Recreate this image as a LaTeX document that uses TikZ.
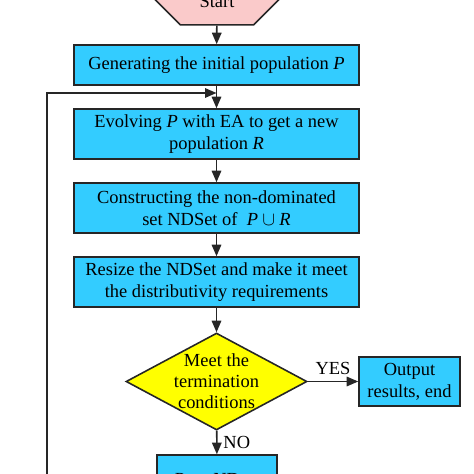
\documentclass[tikz,border=0pt]{standalone}
\usepackage{fontspec}
\setmainfont{Liberation Serif}
\usetikzlibrary{shapes.geometric,shapes.misc,arrows.meta}
\definecolor{boxblue}{RGB}{51,204,255}
\definecolor{startpink}{RGB}{250,202,202}
\definecolor{condyellow}{RGB}{255,255,0}
\tikzset{
  box/.style={draw=black!85,line width=0.9pt,fill=boxblue,align=center,
    minimum width=5.7cm,minimum height=1cm,inner sep=1pt,
    font=\fontsize{10.5}{12.5}\selectfont},
  arrow/.style={draw=black!85,line width=0.9pt,-{Triangle[length=2.3mm,width=1.9mm]}}
}
\begin{document}
\begin{tikzpicture}
  \clip (0,0) rectangle (9.48,-9.48);
  % nodes
  \node[chamfered rectangle,chamfered rectangle xsep=0.6cm,chamfered rectangle ysep=0.399cm,
    draw=black!85,line width=0.9pt,fill=startpink,minimum width=2.5cm,minimum height=0.8cm,
    inner sep=0pt,text height=0.34cm,text depth=0cm,font=\fontsize{10.5}{12.5}\selectfont]
    (start) at (4.34,0.02) {Start};
  \node[box,minimum height=0.8cm] (init) at (4.33,-1.30) {Generating the initial population \textit{P}};
  \node[box] (evolve) at (4.33,-2.68) {Evolving \textit{P} with EA to get a new\\population \textit{R}};
  \node[box] (construct) at (4.33,-4.16) {Constructing the non-dominated\\set NDSet of \ $\textit{P}\cup\textit{R}$};
  \node[box] (resize) at (4.33,-5.64) {Resize the NDSet and make it meet\\the distributivity requirements};
  \node[diamond,aspect=1.87,draw=black!85,line width=0.9pt,fill=condyellow,align=center,
    minimum width=3.62cm,minimum height=1.94cm,inner sep=-2.5pt,
    font=\fontsize{10.5}{12}\selectfont] (cond) at (4.33,-7.63)
    {Meet the\\termination\\conditions};
  \node[box,minimum width=2.02cm,minimum height=0.98cm] (output) at (8.19,-7.63) {Output\\results, end};
  \node[box,minimum width=2.4cm,minimum height=1cm] (update) at (4.34,-9.6) {\textit{P} $\leftarrow$ NDset};
  \coordinate (loop) at (4.33,-1.86);
  % connectors
  \draw[arrow] (start) -- (init);
  \draw[arrow] (init) -- (evolve);
  \draw[arrow] (evolve) -- (construct);
  \draw[arrow] (construct) -- (resize);
  \draw[arrow] (resize) -- (cond);
  \draw[arrow] (cond) -- node[above,font=\fontsize{10.5}{12.5}\selectfont] (yes) {YES} (output);
  \draw[arrow] (cond) -- node[right,font=\fontsize{10.5}{12.5}\selectfont] (no) {NO} (update);
  \draw[arrow] (update.south) -- ++(0,-0.4) -| (0.94,-1.86) -- (loop);
\end{tikzpicture}
\end{document}
